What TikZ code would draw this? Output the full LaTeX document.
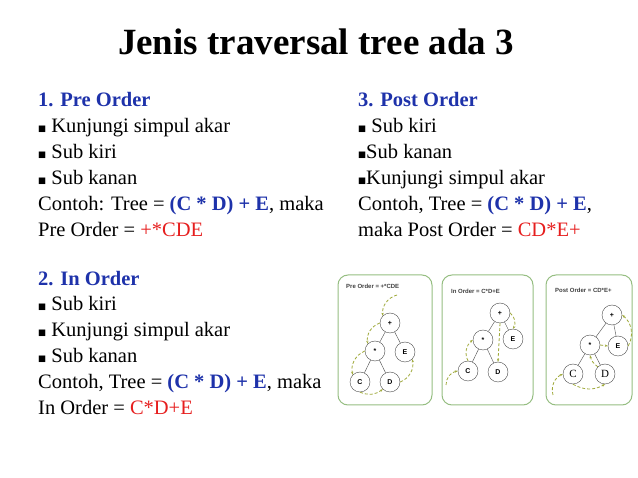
\documentclass[tikz,border=0pt]{standalone}
\usepackage{fontspec}
\setmainfont{Liberation Serif}
\setsansfont{Liberation Sans}
\newfontfamily\dejav{DejaVu Sans}
\usetikzlibrary{arrows.meta}
\definecolor{hblue}{RGB}{30,50,170}
\definecolor{rred}{RGB}{230,30,30}
\definecolor{pgreen}{RGB}{150,190,130}
\definecolor{dgreen}{RGB}{160,170,60}
\begin{document}
\begin{tikzpicture}[x=1pt,y=-1pt,
  txt/.style={anchor=base west,inner sep=0pt,font=\fontsize{20.5}{22}\selectfont},
  panel/.style={draw=pgreen,line width=1pt,rounded corners=10pt,fill=white},
  tn/.style={draw=black!70,circle,minimum size=20pt,inner sep=0pt,font=\sffamily\fontsize{7}{8}\selectfont\bfseries,fill=white},
  ptitle/.style={anchor=west,inner sep=0pt,font=\sffamily\fontsize{6}{7}\selectfont\bfseries,text=black!75},
  trav/.style={dgreen,densely dashed,line width=0.8pt,-{Stealth[length=3pt]}}]
\useasboundingbox (0,0) rectangle (638,478);
\node[font=\bfseries\fontsize{37}{40}\selectfont,inner sep=0pt] (title) at (316,42) {Jenis traversal tree ada 3};
\def\B#1{\textcolor{hblue}{\textbf{#1}}}
\def\R#1{\textcolor{rred}{#1}}
\def\sq{{\dejav\fontsize{8.5}{10}\selectfont\raisebox{1.5pt}{■}}}
\node[txt] (l1) at (38,107) {\B{1. Pre Order}};
\node[txt] (l2) at (38,133) {\sq\ Kunjungi simpul akar};
\node[txt] (l3) at (38,159) {\sq\ Sub kiri};
\node[txt] (l4) at (38,185) {\sq\ Sub kanan};
\node[txt] (l5) at (38,211) {Contoh: Tree = \B{(C * D) + E}, maka};
\node[txt] (l6) at (38,237) {Pre Order = \R{+*CDE}};
\node[txt] (m1) at (38,286) {\B{2. In Order}};
\node[txt] (m2) at (38,311) {\sq\ Sub kiri};
\node[txt] (m3) at (38,337) {\sq\ Kunjungi simpul akar};
\node[txt] (m4) at (38,363) {\sq\ Sub kanan};
\node[txt] (m5) at (38,389) {Contoh, Tree = \B{(C * D) + E}, maka};
\node[txt] (m6) at (38,415) {In Order = \R{C*D+E}};
\node[txt] (r1) at (358,107) {\B{3. Post Order}};
\node[txt] (r2) at (358,133) {\sq\ Sub kiri};
\node[txt] (r3) at (358,159) {\sq Sub kanan};
\node[txt] (r4) at (358,185) {\sq Kunjungi simpul akar};
\node[txt] (r5) at (358,211) {Contoh, Tree = \B{(C * D) + E},};
\node[txt] (r6) at (358,237) {maka Post Order = \R{CD*E+}};
% panels
\draw[panel] (338,275) rectangle (432,405);
\draw[panel] (442,275) rectangle (533,405);
\draw[panel] (546,275) rectangle (632,405);
\node[ptitle] (t1) at (346,286) {Pre Order = +*CDE};
\node[ptitle] (t2) at (451,291) {In Order = C*D+E};
\node[ptitle] (t3) at (555,290) {Post Order = CD*E+};
% tree 1
\node[tn] (a1) at (390,323) {+};
\node[tn] (b1) at (375,351) {*};
\node[tn] (e1) at (405,352) {E};
\node[tn] (c1) at (360,382) {C};
\node[tn] (d1) at (390,382) {D};
\draw[black!70] (a1)--(b1) (a1)--(e1) (b1)--(c1) (b1)--(d1);
\draw[trav] (397,295) to[bend right=40] (a1.north west);
\draw[trav] (a1.west) to[bend right=40] (b1.north west);
\draw[trav] (b1.west) to[bend right=40] (c1.north west);
\draw[trav] (c1.south) to[bend right=30] (d1.south west);
\draw[trav] (d1.east) to[bend right=40] (e1.south east);
% tree 2
\node[tn] (a2) at (500,313) {+};
\node[tn] (b2) at (483,340) {*};
\node[tn] (e2) at (513,339) {E};
\node[tn] (c2) at (468,371) {C};
\node[tn] (d2) at (498,372) {D};
\draw[black!70] (a2)--(b2) (a2)--(e2) (b2)--(c2) (b2)--(d2);
\draw[trav] (446,385) to[bend left=40] (c2.west);
\draw[trav] (c2.north) to[bend left=40] (b2.west);
\draw[trav] (a2.south) -- (d2.north);
\draw[trav] (a2.east) to[bend left=40] (e2.north);
% tree 3
\node[tn] (a3) at (612,315) {+};
\node[tn] (b3) at (590,345) {*};
\node[tn] (e3) at (618,346) {E};
\node[tn,font=\fontsize{11}{11}\selectfont] (c3) at (573,374) {C};
\node[tn,font=\fontsize{11}{11}\selectfont] (d3) at (605,374) {D};
\draw[black!70] (a3)--(b3) (a3)--(e3) (b3)--(c3) (b3)--(d3);
\draw[trav] (553,395) to[bend left=40] (c3.west);
\draw[trav] (c3.south) to[bend right=30] (d3.south);
\draw[trav] (d3.north west) to[bend left=20] (b3.south);
\draw[trav] (b3.east) -- (e3.west);
\draw[trav] (e3.east) to[bend right=40] (a3.east);
\end{tikzpicture}
\end{document}
